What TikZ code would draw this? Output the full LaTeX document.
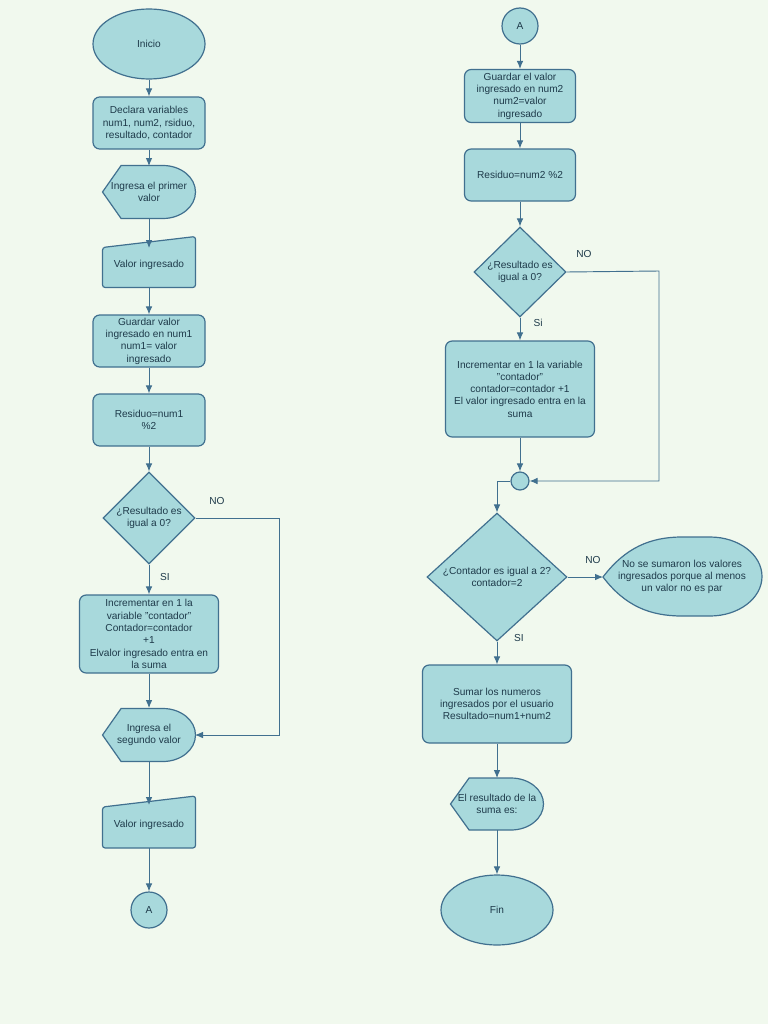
\documentclass[tikz,border=0pt]{standalone}
\usepackage{fontspec}
\setmainfont{Liberation Sans}
\usetikzlibrary{shapes.geometric,arrows.meta}
\definecolor{bg}{HTML}{F1F9EE}
\definecolor{fl}{HTML}{A8D9DC}
\definecolor{st}{HTML}{41708F}
\definecolor{tx}{HTML}{1E3A4A}
\tikzset{
 base/.style={draw=st,fill=fl,line width=0.9pt,text=tx,font=\fontsize{7.6}{9.2}\selectfont,align=center,inner sep=1pt},
 box/.style={base,rectangle,rounded corners=5pt},
 ell/.style={base,ellipse},
 dia/.style={base,diamond},
 circ/.style={base,circle},
 shp/.style={draw=st,fill=fl,line width=0.9pt},
 lab/.style={text=tx,font=\fontsize{7.6}{9.2}\selectfont},
 arr/.style={draw=st,line width=0.7pt,-{Latex[length=6pt,width=5pt]}},
}
% display shape: name, cx, cy, w, h, text
\newcommand\dispsh[6]{
 \draw[shp] ({#2-#4/2},#3) -- ({#2-0.3*#4},{#3-#5/2}) -- ({#2+0.15*#4},{#3-#5/2})
   arc[start angle=-90,end angle=90,x radius={0.35*#4},y radius={#5/2}]
   -- ({#2-0.3*#4},{#3+#5/2}) -- cycle;
 \node[lab,align=center,minimum width=#4,minimum height=#5,inner sep=0pt] (#1) at (#2,#3) {#6};
}
% manual input: name, cx, cy, w, h, text
\newcommand\manin[6]{
 \draw[shp,rounded corners=2pt] ({#2-#4/2},{#3-#5/2+11}) -- ({#2+#4/2},{#3-#5/2}) -- ({#2+#4/2},{#3+#5/2}) -- ({#2-#4/2},{#3+#5/2}) -- cycle;
 \node[lab,minimum width=#4,minimum height=#5,inner sep=0pt] (#1) at (#2,{#3+3}) {#6};
}
\begin{document}
\begin{tikzpicture}[x=0.75pt,y=-0.75pt]
\fill[bg] (0,0) rectangle (768,1024);
\useasboundingbox (0,0) rectangle (768,1024);
% left column
\node[ell,minimum width=112*0.75pt,minimum height=70*0.75pt,inner sep=0pt] (ini) at (149,44) {Inicio};
\node[box,minimum width=112*0.75pt,minimum height=52*0.75pt] (dec) at (149,123) {Declara variables\\num1, num2, rsiduo,\\resultado, contador};
\dispsh{in1}{149}{192}{93}{53}{Ingresa el primer\\valor}
\manin{v1}{149}{262}{93}{51}{Valor ingresado}
\node[box,minimum width=112*0.75pt,minimum height=52*0.75pt] (g1) at (149,341) {Guardar valor\\ingresado en num1\\num1= valor\\ingresado};
\node[box,minimum width=112*0.75pt,minimum height=52*0.75pt] (r1) at (149,420) {Residuo=num1\\\%2};
\node[dia,minimum width=92*0.75pt,minimum height=92*0.75pt,inner sep=0pt] (d1) at (149,518) {¿Resultado es\\igual a 0?};
\node[box,minimum width=139*0.75pt,minimum height=78*0.75pt] (inc1) at (149,634) {Incrementar en 1 la\\variable "contador"\\Contador=contador\\+1\\Elvalor ingresado entra en\\la suma};
\dispsh{in2}{149}{735}{93}{53}{Ingresa el\\segundo valor}
\manin{v2}{149}{822}{93}{52}{Valor ingresado}
\node[circ,minimum size=36*0.75pt] (A1) at (149,910) {A};
\draw[arr] (ini) -- (dec);
\draw[arr] (dec) -- (149,166);
\draw[arr] (149,219) -- (149,248);
\draw[arr] (149,288) -- (g1);
\draw[arr] (g1) -- (r1);
\draw[arr] (r1) -- (d1);
\draw[arr] (d1) -- (inc1);
\draw[arr] (inc1) -- (149,708);
\draw[arr] (d1.east) -- (279,518) -- (279,735) -- (195,735);
\draw[arr] (149,761) -- (149,805);
\draw[arr] (149,848) -- (A1);
\node[lab] at (217,501) {NO};
\node[lab] at (165,577) {SI};
% right column
\node[circ,minimum size=36*0.75pt] (A2) at (520,26) {A};
\node[box,minimum width=111*0.75pt,minimum height=53*0.75pt] (g2) at (520,96) {Guardar el valor\\ingresado en num2\\num2=valor\\ingresado};
\node[box,minimum width=111*0.75pt,minimum height=52*0.75pt] (r2) at (520,175) {Residuo=num2 \%2};
\node[dia,minimum width=92*0.75pt,minimum height=90*0.75pt,inner sep=0pt] (d2) at (520,272) {¿Resultado es\\igual a 0?};
\node[box,minimum width=149*0.75pt,minimum height=96*0.75pt] (inc2) at (520,389) {Incrementar en 1 la variable\\"contador"\\contador=contador +1\\El valor ingresado entra en la\\suma};
\node[circ,minimum size=18*0.75pt,inner sep=0pt] (j) at (520,481) {};
\node[dia,minimum width=140*0.75pt,minimum height=122*0.75pt,inner sep=0pt] (d3) at (497,577) {¿Contador es igual a 2?\\contador=2};
\draw[shp] (603,577) .. controls (625,548) and (650,537) .. (682,537) -- (710,537)
  arc[start angle=-90,end angle=90,x radius=52,y radius=39.5] -- (682,616) .. controls (650,616) and (625,606) .. (603,577) -- cycle;
\node[lab,align=center] (no) at (682,577) {No se sumaron los valores\\ingresados porque al menos\\un valor no es par};
\node[box,minimum width=149*0.75pt,minimum height=78*0.75pt] (sum) at (497,704) {Sumar los numeros\\ingresados por el usuario\\Resultado=num1+num2};
\dispsh{res}{497}{804}{93}{52}{El resultado de la\\suma es:}
\node[ell,minimum width=112*0.75pt,minimum height=70*0.75pt,inner sep=0pt] (fin) at (497,910) {Fin};
\draw[arr] (A2) -- (g2);
\draw[arr] (g2) -- (r2);
\draw[arr] (r2) -- (d2);
\draw[arr] (d2) -- (inc2);
\draw[arr] (inc2) -- (j);
\draw[arr] (d2.east) -- (659,271) -- (659,481) -- (j.east);
\draw[arr] (j.west) -- (497,481) -- (d3.north);
\draw[arr] (d3.east) -- (603,577);
\draw[arr] (d3.south) -- (sum);
\draw[arr] (sum) -- (497,778);
\draw[arr] (497,830) -- (fin);
\node[lab] at (584,254) {NO};
\node[lab] at (538,323) {Si};
\node[lab] at (593,560) {NO};
\node[lab] at (519,638) {SI};
\end{tikzpicture}
\end{document}
